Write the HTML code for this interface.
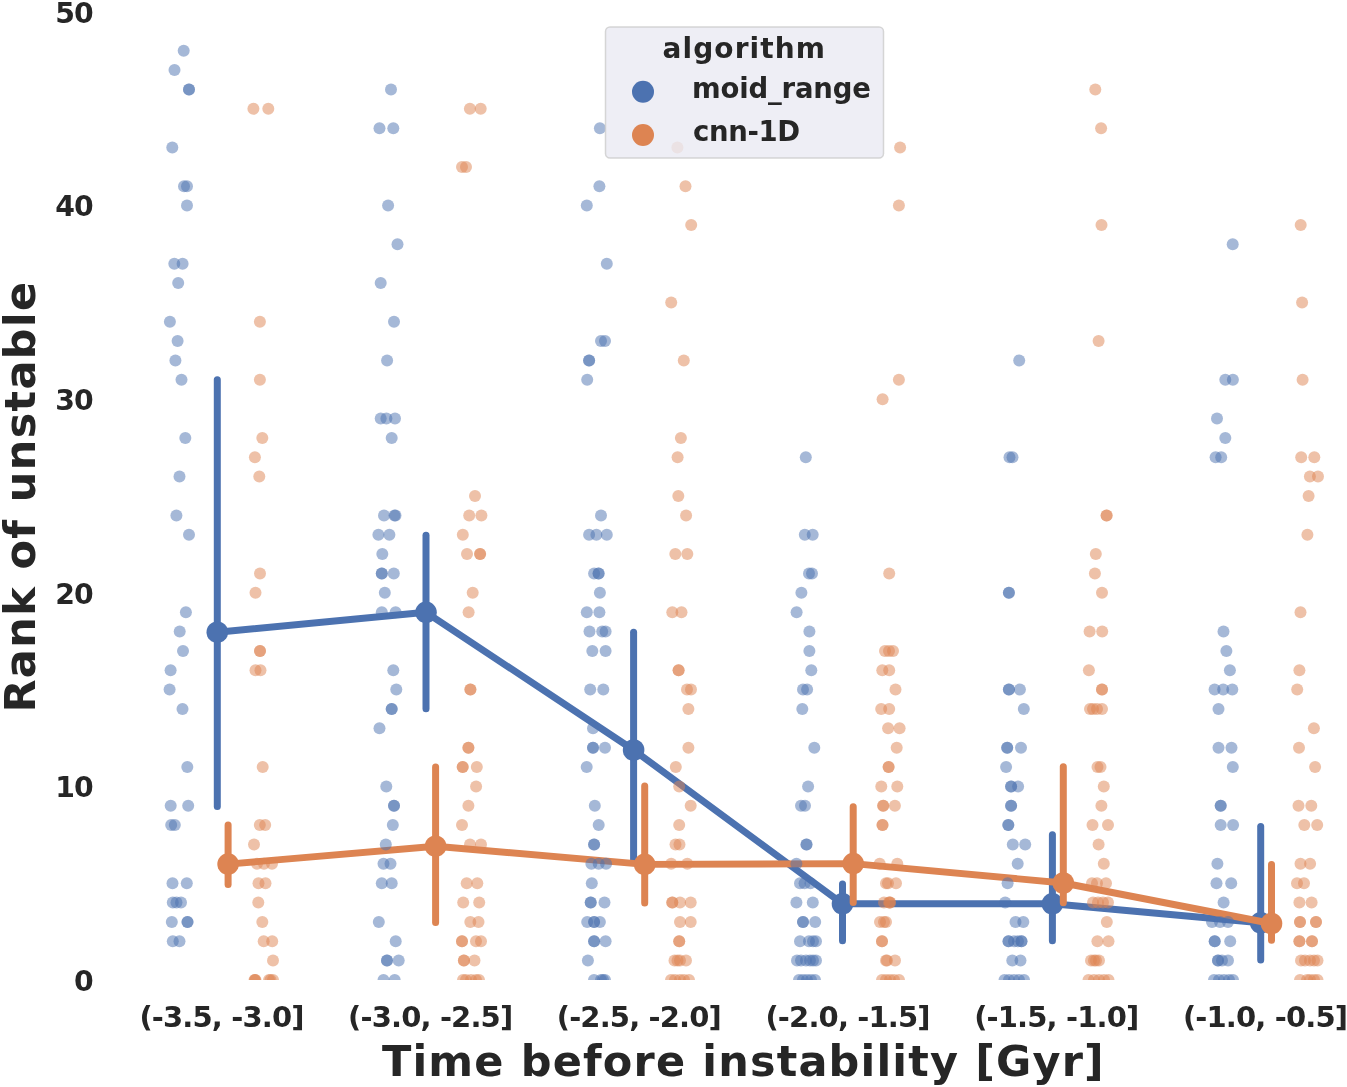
<!DOCTYPE html><html><head><meta charset="utf-8"><style>html,body{margin:0;padding:0;background:#fff;}svg{display:block;}text{font-family:"DejaVu Sans","Liberation Sans",sans-serif;font-weight:bold;fill:#262626}</style></head><body>
<svg width="1347" height="1087" viewBox="0 0 1347 1087">
<rect width="1347" height="1087" fill="#fff"/>
<defs><clipPath id="ax"><rect x="100" y="12" width="1247" height="968"/></clipPath></defs>
<g stroke="#4c72b0" fill="none" stroke-linecap="round" stroke-linejoin="round">
<path d="M217.3 632.2 L426.0 612.3 L633.6 750.0 L842.5 903.8 L1052.4 903.8 L1260.7 922.8" stroke-width="6.90"/>
<line x1="217.3" y1="379.7" x2="217.3" y2="806.5" stroke-width="7.00"/>
<line x1="426.0" y1="535.2" x2="426.0" y2="708.8" stroke-width="7.00"/>
<line x1="633.6" y1="632.3" x2="633.6" y2="859.4" stroke-width="7.00"/>
<line x1="842.5" y1="884.0" x2="842.5" y2="940.7" stroke-width="7.00"/>
<line x1="1052.4" y1="834.8" x2="1052.4" y2="940.7" stroke-width="7.00"/>
<line x1="1260.7" y1="826.5" x2="1260.7" y2="960.0" stroke-width="7.00"/>
</g>
<g fill="#4c72b0"><circle cx="217.3" cy="632.2" r="10.80"/><circle cx="426.0" cy="612.3" r="10.80"/><circle cx="633.6" cy="750.0" r="10.80"/><circle cx="842.5" cy="903.8" r="10.80"/><circle cx="1052.4" cy="903.8" r="10.80"/><circle cx="1260.7" cy="922.8" r="10.80"/></g>
<g stroke="#dd8452" fill="none" stroke-linecap="round" stroke-linejoin="round">
<path d="M228.1 864.1 L435.6 846.2 L644.7 864.4 L853.2 863.6 L1063.3 883.0 L1271.5 923.5" stroke-width="6.90"/>
<line x1="228.1" y1="825.0" x2="228.1" y2="884.5" stroke-width="7.00"/>
<line x1="435.6" y1="766.9" x2="435.6" y2="922.5" stroke-width="7.00"/>
<line x1="644.7" y1="786.1" x2="644.7" y2="903.1" stroke-width="7.00"/>
<line x1="853.2" y1="806.7" x2="853.2" y2="902.5" stroke-width="7.00"/>
<line x1="1063.3" y1="766.8" x2="1063.3" y2="902.8" stroke-width="7.00"/>
<line x1="1271.5" y1="864.5" x2="1271.5" y2="940.3" stroke-width="7.00"/>
</g>
<g fill="#dd8452"><circle cx="228.1" cy="864.1" r="10.80"/><circle cx="435.6" cy="846.2" r="10.80"/><circle cx="644.7" cy="864.4" r="10.80"/><circle cx="853.2" cy="863.6" r="10.80"/><circle cx="1063.3" cy="883.0" r="10.80"/><circle cx="1271.5" cy="923.5" r="10.80"/></g>
<g clip-path="url(#ax)">
<g fill="#4c72b0" fill-opacity="0.50"><circle cx="183.7" cy="50.7" r="6.00"/><circle cx="174.5" cy="70.1" r="6.00"/><circle cx="189.0" cy="89.4" r="6.00"/><circle cx="189.0" cy="89.4" r="6.00"/><circle cx="172.3" cy="147.5" r="6.00"/><circle cx="184.0" cy="186.2" r="6.00"/><circle cx="187.0" cy="186.2" r="6.00"/><circle cx="187.0" cy="205.6" r="6.00"/><circle cx="174.3" cy="263.7" r="6.00"/><circle cx="182.6" cy="263.7" r="6.00"/><circle cx="178.2" cy="283.0" r="6.00"/><circle cx="169.9" cy="321.8" r="6.00"/><circle cx="177.6" cy="341.1" r="6.00"/><circle cx="175.4" cy="360.5" r="6.00"/><circle cx="181.5" cy="379.8" r="6.00"/><circle cx="185.3" cy="437.9" r="6.00"/><circle cx="179.5" cy="476.6" r="6.00"/><circle cx="176.4" cy="515.4" r="6.00"/><circle cx="189.0" cy="534.7" r="6.00"/><circle cx="185.9" cy="612.2" r="6.00"/><circle cx="179.7" cy="631.5" r="6.00"/><circle cx="183.0" cy="650.9" r="6.00"/><circle cx="170.6" cy="670.2" r="6.00"/><circle cx="169.6" cy="689.6" r="6.00"/><circle cx="182.5" cy="709.0" r="6.00"/><circle cx="187.3" cy="767.0" r="6.00"/><circle cx="170.7" cy="805.8" r="6.00"/><circle cx="188.2" cy="805.8" r="6.00"/><circle cx="171.2" cy="825.1" r="6.00"/><circle cx="174.8" cy="825.1" r="6.00"/><circle cx="172.5" cy="883.2" r="6.00"/><circle cx="186.8" cy="883.2" r="6.00"/><circle cx="172.8" cy="902.6" r="6.00"/><circle cx="176.5" cy="902.6" r="6.00"/><circle cx="181.0" cy="902.6" r="6.00"/><circle cx="171.8" cy="921.9" r="6.00"/><circle cx="187.5" cy="921.9" r="6.00"/><circle cx="187.5" cy="921.9" r="6.00"/><circle cx="172.8" cy="941.3" r="6.00"/><circle cx="179.5" cy="941.3" r="6.00"/></g>
<g fill="#dd8452" fill-opacity="0.50"><circle cx="253.4" cy="108.8" r="6.00"/><circle cx="268.3" cy="108.8" r="6.00"/><circle cx="259.9" cy="321.8" r="6.00"/><circle cx="259.9" cy="379.8" r="6.00"/><circle cx="262.3" cy="437.9" r="6.00"/><circle cx="254.9" cy="457.3" r="6.00"/><circle cx="259.3" cy="476.6" r="6.00"/><circle cx="260.0" cy="573.4" r="6.00"/><circle cx="255.5" cy="592.8" r="6.00"/><circle cx="260.0" cy="650.9" r="6.00"/><circle cx="260.0" cy="650.9" r="6.00"/><circle cx="255.5" cy="670.2" r="6.00"/><circle cx="260.5" cy="670.2" r="6.00"/><circle cx="262.7" cy="767.0" r="6.00"/><circle cx="259.8" cy="825.1" r="6.00"/><circle cx="265.2" cy="825.1" r="6.00"/><circle cx="254.0" cy="844.5" r="6.00"/><circle cx="257.0" cy="863.8" r="6.00"/><circle cx="264.0" cy="863.8" r="6.00"/><circle cx="272.0" cy="863.8" r="6.00"/><circle cx="258.5" cy="883.2" r="6.00"/><circle cx="265.5" cy="883.2" r="6.00"/><circle cx="258.3" cy="902.6" r="6.00"/><circle cx="262.3" cy="921.9" r="6.00"/><circle cx="263.7" cy="941.3" r="6.00"/><circle cx="272.2" cy="941.3" r="6.00"/><circle cx="273.0" cy="960.6" r="6.00"/><circle cx="254.5" cy="980.0" r="6.00"/><circle cx="255.0" cy="980.0" r="6.00"/><circle cx="255.5" cy="980.0" r="6.00"/><circle cx="269.0" cy="980.0" r="6.00"/><circle cx="270.5" cy="980.0" r="6.00"/><circle cx="273.0" cy="980.0" r="6.00"/></g>
<g fill="#4c72b0" fill-opacity="0.50"><circle cx="391.0" cy="89.4" r="6.00"/><circle cx="379.5" cy="128.2" r="6.00"/><circle cx="393.3" cy="128.2" r="6.00"/><circle cx="388.1" cy="205.6" r="6.00"/><circle cx="397.5" cy="244.3" r="6.00"/><circle cx="380.7" cy="283.0" r="6.00"/><circle cx="394.0" cy="321.8" r="6.00"/><circle cx="387.1" cy="360.5" r="6.00"/><circle cx="380.7" cy="418.6" r="6.00"/><circle cx="386.4" cy="418.6" r="6.00"/><circle cx="395.0" cy="418.6" r="6.00"/><circle cx="391.7" cy="437.9" r="6.00"/><circle cx="384.0" cy="515.4" r="6.00"/><circle cx="394.5" cy="515.4" r="6.00"/><circle cx="395.5" cy="515.4" r="6.00"/><circle cx="378.4" cy="534.7" r="6.00"/><circle cx="389.4" cy="534.7" r="6.00"/><circle cx="382.3" cy="554.1" r="6.00"/><circle cx="381.8" cy="573.4" r="6.00"/><circle cx="381.8" cy="573.4" r="6.00"/><circle cx="393.8" cy="573.4" r="6.00"/><circle cx="384.8" cy="592.8" r="6.00"/><circle cx="381.8" cy="612.2" r="6.00"/><circle cx="395.6" cy="612.2" r="6.00"/><circle cx="393.3" cy="670.2" r="6.00"/><circle cx="396.3" cy="689.6" r="6.00"/><circle cx="391.7" cy="709.0" r="6.00"/><circle cx="391.7" cy="709.0" r="6.00"/><circle cx="379.5" cy="728.3" r="6.00"/><circle cx="386.3" cy="786.4" r="6.00"/><circle cx="394.0" cy="805.8" r="6.00"/><circle cx="394.0" cy="805.8" r="6.00"/><circle cx="392.8" cy="825.1" r="6.00"/><circle cx="385.8" cy="844.5" r="6.00"/><circle cx="383.5" cy="863.8" r="6.00"/><circle cx="390.5" cy="863.8" r="6.00"/><circle cx="381.8" cy="883.2" r="6.00"/><circle cx="391.7" cy="883.2" r="6.00"/><circle cx="378.8" cy="921.9" r="6.00"/><circle cx="395.7" cy="941.3" r="6.00"/><circle cx="387.0" cy="960.6" r="6.00"/><circle cx="387.0" cy="960.6" r="6.00"/><circle cx="398.7" cy="960.6" r="6.00"/><circle cx="383.5" cy="980.0" r="6.00"/><circle cx="394.7" cy="980.0" r="6.00"/></g>
<g fill="#dd8452" fill-opacity="0.50"><circle cx="469.9" cy="108.8" r="6.00"/><circle cx="480.7" cy="108.8" r="6.00"/><circle cx="462.0" cy="166.9" r="6.00"/><circle cx="466.0" cy="166.9" r="6.00"/><circle cx="475.0" cy="496.0" r="6.00"/><circle cx="469.2" cy="515.4" r="6.00"/><circle cx="481.4" cy="515.4" r="6.00"/><circle cx="462.8" cy="534.7" r="6.00"/><circle cx="467.0" cy="554.1" r="6.00"/><circle cx="480.1" cy="554.1" r="6.00"/><circle cx="480.1" cy="554.1" r="6.00"/><circle cx="472.7" cy="592.8" r="6.00"/><circle cx="468.6" cy="612.2" r="6.00"/><circle cx="470.4" cy="689.6" r="6.00"/><circle cx="470.4" cy="689.6" r="6.00"/><circle cx="468.4" cy="747.7" r="6.00"/><circle cx="468.4" cy="747.7" r="6.00"/><circle cx="462.7" cy="767.0" r="6.00"/><circle cx="462.7" cy="767.0" r="6.00"/><circle cx="476.8" cy="767.0" r="6.00"/><circle cx="476.1" cy="786.4" r="6.00"/><circle cx="468.4" cy="805.8" r="6.00"/><circle cx="462.0" cy="825.1" r="6.00"/><circle cx="470.0" cy="844.5" r="6.00"/><circle cx="481.0" cy="844.5" r="6.00"/><circle cx="466.7" cy="883.2" r="6.00"/><circle cx="477.3" cy="883.2" r="6.00"/><circle cx="463.2" cy="902.6" r="6.00"/><circle cx="479.2" cy="902.6" r="6.00"/><circle cx="470.3" cy="921.9" r="6.00"/><circle cx="478.5" cy="921.9" r="6.00"/><circle cx="462.0" cy="941.3" r="6.00"/><circle cx="462.0" cy="941.3" r="6.00"/><circle cx="476.0" cy="941.3" r="6.00"/><circle cx="481.0" cy="941.3" r="6.00"/><circle cx="463.9" cy="960.6" r="6.00"/><circle cx="463.9" cy="960.6" r="6.00"/><circle cx="474.5" cy="960.6" r="6.00"/><circle cx="463.0" cy="980.0" r="6.00"/><circle cx="466.0" cy="980.0" r="6.00"/><circle cx="471.0" cy="980.0" r="6.00"/><circle cx="476.0" cy="980.0" r="6.00"/><circle cx="479.0" cy="980.0" r="6.00"/></g>
<g fill="#4c72b0" fill-opacity="0.50"><circle cx="599.9" cy="128.2" r="6.00"/><circle cx="599.4" cy="186.2" r="6.00"/><circle cx="586.8" cy="205.6" r="6.00"/><circle cx="606.8" cy="263.7" r="6.00"/><circle cx="601.0" cy="341.1" r="6.00"/><circle cx="605.0" cy="341.1" r="6.00"/><circle cx="589.1" cy="360.5" r="6.00"/><circle cx="589.1" cy="360.5" r="6.00"/><circle cx="587.2" cy="379.8" r="6.00"/><circle cx="601.0" cy="515.4" r="6.00"/><circle cx="589.1" cy="534.7" r="6.00"/><circle cx="596.4" cy="534.7" r="6.00"/><circle cx="606.8" cy="534.7" r="6.00"/><circle cx="594.1" cy="573.4" r="6.00"/><circle cx="598.6" cy="573.4" r="6.00"/><circle cx="598.6" cy="573.4" r="6.00"/><circle cx="599.9" cy="592.8" r="6.00"/><circle cx="586.8" cy="612.2" r="6.00"/><circle cx="599.4" cy="612.2" r="6.00"/><circle cx="589.5" cy="631.5" r="6.00"/><circle cx="602.2" cy="631.5" r="6.00"/><circle cx="605.6" cy="631.5" r="6.00"/><circle cx="592.3" cy="650.9" r="6.00"/><circle cx="605.6" cy="650.9" r="6.00"/><circle cx="590.2" cy="689.6" r="6.00"/><circle cx="603.3" cy="689.6" r="6.00"/><circle cx="593.0" cy="728.3" r="6.00"/><circle cx="593.0" cy="747.7" r="6.00"/><circle cx="593.0" cy="747.7" r="6.00"/><circle cx="605.0" cy="747.7" r="6.00"/><circle cx="586.7" cy="767.0" r="6.00"/><circle cx="594.8" cy="805.8" r="6.00"/><circle cx="598.7" cy="825.1" r="6.00"/><circle cx="594.1" cy="844.5" r="6.00"/><circle cx="594.1" cy="844.5" r="6.00"/><circle cx="591.4" cy="863.8" r="6.00"/><circle cx="598.7" cy="863.8" r="6.00"/><circle cx="606.1" cy="863.8" r="6.00"/><circle cx="591.8" cy="883.2" r="6.00"/><circle cx="590.7" cy="902.6" r="6.00"/><circle cx="590.7" cy="902.6" r="6.00"/><circle cx="604.5" cy="902.6" r="6.00"/><circle cx="587.2" cy="921.9" r="6.00"/><circle cx="594.1" cy="921.9" r="6.00"/><circle cx="594.1" cy="921.9" r="6.00"/><circle cx="599.9" cy="921.9" r="6.00"/><circle cx="594.1" cy="941.3" r="6.00"/><circle cx="594.1" cy="941.3" r="6.00"/><circle cx="605.6" cy="941.3" r="6.00"/><circle cx="587.9" cy="960.6" r="6.00"/><circle cx="594.0" cy="980.0" r="6.00"/><circle cx="601.0" cy="980.0" r="6.00"/><circle cx="603.0" cy="980.0" r="6.00"/><circle cx="605.0" cy="980.0" r="6.00"/></g>
<g fill="#dd8452" fill-opacity="0.50"><circle cx="677.4" cy="147.5" r="6.00"/><circle cx="685.5" cy="186.2" r="6.00"/><circle cx="691.2" cy="225.0" r="6.00"/><circle cx="671.2" cy="302.4" r="6.00"/><circle cx="683.8" cy="360.5" r="6.00"/><circle cx="680.9" cy="437.9" r="6.00"/><circle cx="677.6" cy="457.3" r="6.00"/><circle cx="678.3" cy="496.0" r="6.00"/><circle cx="686.1" cy="515.4" r="6.00"/><circle cx="675.3" cy="554.1" r="6.00"/><circle cx="687.3" cy="554.1" r="6.00"/><circle cx="672.3" cy="612.2" r="6.00"/><circle cx="681.5" cy="612.2" r="6.00"/><circle cx="678.6" cy="670.2" r="6.00"/><circle cx="678.6" cy="670.2" r="6.00"/><circle cx="687.0" cy="689.6" r="6.00"/><circle cx="691.0" cy="689.6" r="6.00"/><circle cx="688.4" cy="709.0" r="6.00"/><circle cx="688.4" cy="747.7" r="6.00"/><circle cx="675.8" cy="767.0" r="6.00"/><circle cx="679.2" cy="786.4" r="6.00"/><circle cx="690.7" cy="805.8" r="6.00"/><circle cx="679.2" cy="825.1" r="6.00"/><circle cx="675.5" cy="844.5" r="6.00"/><circle cx="679.5" cy="844.5" r="6.00"/><circle cx="671.2" cy="863.8" r="6.00"/><circle cx="687.3" cy="863.8" r="6.00"/><circle cx="672.3" cy="902.6" r="6.00"/><circle cx="672.3" cy="902.6" r="6.00"/><circle cx="680.0" cy="902.6" r="6.00"/><circle cx="690.7" cy="902.6" r="6.00"/><circle cx="680.0" cy="921.9" r="6.00"/><circle cx="690.7" cy="921.9" r="6.00"/><circle cx="679.2" cy="941.3" r="6.00"/><circle cx="679.2" cy="941.3" r="6.00"/><circle cx="674.5" cy="960.6" r="6.00"/><circle cx="677.5" cy="960.6" r="6.00"/><circle cx="680.0" cy="960.6" r="6.00"/><circle cx="686.0" cy="960.6" r="6.00"/><circle cx="671.0" cy="980.0" r="6.00"/><circle cx="675.0" cy="980.0" r="6.00"/><circle cx="680.0" cy="980.0" r="6.00"/><circle cx="684.0" cy="980.0" r="6.00"/><circle cx="689.0" cy="980.0" r="6.00"/></g>
<g fill="#4c72b0" fill-opacity="0.50"><circle cx="805.8" cy="457.3" r="6.00"/><circle cx="804.8" cy="534.7" r="6.00"/><circle cx="812.7" cy="534.7" r="6.00"/><circle cx="809.0" cy="573.4" r="6.00"/><circle cx="812.0" cy="573.4" r="6.00"/><circle cx="801.4" cy="592.8" r="6.00"/><circle cx="796.6" cy="612.2" r="6.00"/><circle cx="809.4" cy="631.5" r="6.00"/><circle cx="809.4" cy="650.9" r="6.00"/><circle cx="811.3" cy="670.2" r="6.00"/><circle cx="803.0" cy="689.6" r="6.00"/><circle cx="807.1" cy="689.6" r="6.00"/><circle cx="802.3" cy="709.0" r="6.00"/><circle cx="814.3" cy="747.7" r="6.00"/><circle cx="808.1" cy="786.4" r="6.00"/><circle cx="801.0" cy="805.8" r="6.00"/><circle cx="805.0" cy="805.8" r="6.00"/><circle cx="806.5" cy="844.5" r="6.00"/><circle cx="806.5" cy="844.5" r="6.00"/><circle cx="796.4" cy="863.8" r="6.00"/><circle cx="800.0" cy="883.2" r="6.00"/><circle cx="804.6" cy="883.2" r="6.00"/><circle cx="810.5" cy="883.2" r="6.00"/><circle cx="796.4" cy="902.6" r="6.00"/><circle cx="812.8" cy="902.6" r="6.00"/><circle cx="803.0" cy="921.9" r="6.00"/><circle cx="803.0" cy="921.9" r="6.00"/><circle cx="815.2" cy="921.9" r="6.00"/><circle cx="800.0" cy="941.3" r="6.00"/><circle cx="809.0" cy="941.3" r="6.00"/><circle cx="813.0" cy="941.3" r="6.00"/><circle cx="816.0" cy="941.3" r="6.00"/><circle cx="797.0" cy="960.6" r="6.00"/><circle cx="801.0" cy="960.6" r="6.00"/><circle cx="806.0" cy="960.6" r="6.00"/><circle cx="810.0" cy="960.6" r="6.00"/><circle cx="813.0" cy="960.6" r="6.00"/><circle cx="816.0" cy="960.6" r="6.00"/><circle cx="799.0" cy="980.0" r="6.00"/><circle cx="803.0" cy="980.0" r="6.00"/><circle cx="807.0" cy="980.0" r="6.00"/><circle cx="811.0" cy="980.0" r="6.00"/><circle cx="815.0" cy="980.0" r="6.00"/></g>
<g fill="#dd8452" fill-opacity="0.50"><circle cx="900.1" cy="147.5" r="6.00"/><circle cx="898.9" cy="205.6" r="6.00"/><circle cx="898.9" cy="379.8" r="6.00"/><circle cx="882.6" cy="399.2" r="6.00"/><circle cx="889.2" cy="573.4" r="6.00"/><circle cx="885.0" cy="650.9" r="6.00"/><circle cx="889.0" cy="650.9" r="6.00"/><circle cx="893.0" cy="650.9" r="6.00"/><circle cx="882.3" cy="670.2" r="6.00"/><circle cx="889.2" cy="670.2" r="6.00"/><circle cx="895.5" cy="689.6" r="6.00"/><circle cx="881.2" cy="709.0" r="6.00"/><circle cx="889.2" cy="709.0" r="6.00"/><circle cx="888.1" cy="728.3" r="6.00"/><circle cx="899.6" cy="728.3" r="6.00"/><circle cx="896.7" cy="747.7" r="6.00"/><circle cx="888.6" cy="767.0" r="6.00"/><circle cx="888.6" cy="767.0" r="6.00"/><circle cx="881.3" cy="786.4" r="6.00"/><circle cx="897.3" cy="786.4" r="6.00"/><circle cx="883.2" cy="805.8" r="6.00"/><circle cx="883.2" cy="805.8" r="6.00"/><circle cx="894.9" cy="805.8" r="6.00"/><circle cx="882.5" cy="825.1" r="6.00"/><circle cx="882.5" cy="825.1" r="6.00"/><circle cx="879.7" cy="863.8" r="6.00"/><circle cx="897.3" cy="863.8" r="6.00"/><circle cx="886.0" cy="883.2" r="6.00"/><circle cx="888.0" cy="883.2" r="6.00"/><circle cx="896.0" cy="883.2" r="6.00"/><circle cx="884.0" cy="902.6" r="6.00"/><circle cx="889.0" cy="902.6" r="6.00"/><circle cx="890.0" cy="902.6" r="6.00"/><circle cx="890.0" cy="902.6" r="6.00"/><circle cx="880.0" cy="921.9" r="6.00"/><circle cx="884.0" cy="921.9" r="6.00"/><circle cx="886.0" cy="921.9" r="6.00"/><circle cx="882.0" cy="941.3" r="6.00"/><circle cx="882.0" cy="941.3" r="6.00"/><circle cx="886.0" cy="960.6" r="6.00"/><circle cx="887.0" cy="960.6" r="6.00"/><circle cx="895.0" cy="960.6" r="6.00"/><circle cx="882.0" cy="980.0" r="6.00"/><circle cx="886.0" cy="980.0" r="6.00"/><circle cx="890.0" cy="980.0" r="6.00"/><circle cx="894.0" cy="980.0" r="6.00"/><circle cx="899.0" cy="980.0" r="6.00"/></g>
<g fill="#4c72b0" fill-opacity="0.50"><circle cx="1019.2" cy="360.5" r="6.00"/><circle cx="1009.5" cy="457.3" r="6.00"/><circle cx="1012.5" cy="457.3" r="6.00"/><circle cx="1008.9" cy="592.8" r="6.00"/><circle cx="1008.9" cy="592.8" r="6.00"/><circle cx="1008.9" cy="689.6" r="6.00"/><circle cx="1008.9" cy="689.6" r="6.00"/><circle cx="1019.9" cy="689.6" r="6.00"/><circle cx="1023.8" cy="709.0" r="6.00"/><circle cx="1007.2" cy="747.7" r="6.00"/><circle cx="1007.2" cy="747.7" r="6.00"/><circle cx="1021.0" cy="747.7" r="6.00"/><circle cx="1006.1" cy="767.0" r="6.00"/><circle cx="1011.1" cy="786.4" r="6.00"/><circle cx="1011.1" cy="786.4" r="6.00"/><circle cx="1018.1" cy="786.4" r="6.00"/><circle cx="1011.1" cy="805.8" r="6.00"/><circle cx="1011.1" cy="805.8" r="6.00"/><circle cx="1008.3" cy="825.1" r="6.00"/><circle cx="1008.3" cy="825.1" r="6.00"/><circle cx="1012.8" cy="844.5" r="6.00"/><circle cx="1025.2" cy="844.5" r="6.00"/><circle cx="1017.7" cy="863.8" r="6.00"/><circle cx="1007.6" cy="883.2" r="6.00"/><circle cx="1005.2" cy="902.6" r="6.00"/><circle cx="1015.5" cy="921.9" r="6.00"/><circle cx="1023.3" cy="921.9" r="6.00"/><circle cx="1008.5" cy="941.3" r="6.00"/><circle cx="1008.5" cy="941.3" r="6.00"/><circle cx="1014.0" cy="941.3" r="6.00"/><circle cx="1018.0" cy="941.3" r="6.00"/><circle cx="1021.5" cy="941.3" r="6.00"/><circle cx="1021.5" cy="941.3" r="6.00"/><circle cx="1012.3" cy="960.6" r="6.00"/><circle cx="1020.5" cy="960.6" r="6.00"/><circle cx="1004.5" cy="980.0" r="6.00"/><circle cx="1009.0" cy="980.0" r="6.00"/><circle cx="1014.0" cy="980.0" r="6.00"/><circle cx="1019.0" cy="980.0" r="6.00"/><circle cx="1024.0" cy="980.0" r="6.00"/></g>
<g fill="#dd8452" fill-opacity="0.50"><circle cx="1095.3" cy="89.4" r="6.00"/><circle cx="1101.1" cy="128.2" r="6.00"/><circle cx="1101.5" cy="225.0" r="6.00"/><circle cx="1098.6" cy="341.1" r="6.00"/><circle cx="1106.6" cy="515.4" r="6.00"/><circle cx="1106.6" cy="515.4" r="6.00"/><circle cx="1095.8" cy="554.1" r="6.00"/><circle cx="1094.9" cy="573.4" r="6.00"/><circle cx="1102.0" cy="592.8" r="6.00"/><circle cx="1089.6" cy="631.5" r="6.00"/><circle cx="1102.2" cy="631.5" r="6.00"/><circle cx="1088.9" cy="670.2" r="6.00"/><circle cx="1102.0" cy="689.6" r="6.00"/><circle cx="1102.0" cy="689.6" r="6.00"/><circle cx="1090.0" cy="709.0" r="6.00"/><circle cx="1093.0" cy="709.0" r="6.00"/><circle cx="1097.0" cy="709.0" r="6.00"/><circle cx="1102.0" cy="709.0" r="6.00"/><circle cx="1097.5" cy="767.0" r="6.00"/><circle cx="1100.5" cy="767.0" r="6.00"/><circle cx="1103.8" cy="786.4" r="6.00"/><circle cx="1101.4" cy="805.8" r="6.00"/><circle cx="1092.5" cy="825.1" r="6.00"/><circle cx="1108.0" cy="825.1" r="6.00"/><circle cx="1098.6" cy="844.5" r="6.00"/><circle cx="1103.8" cy="863.8" r="6.00"/><circle cx="1092.0" cy="883.2" r="6.00"/><circle cx="1097.0" cy="883.2" r="6.00"/><circle cx="1106.0" cy="883.2" r="6.00"/><circle cx="1093.0" cy="902.6" r="6.00"/><circle cx="1098.0" cy="902.6" r="6.00"/><circle cx="1103.0" cy="902.6" r="6.00"/><circle cx="1108.0" cy="902.6" r="6.00"/><circle cx="1106.8" cy="921.9" r="6.00"/><circle cx="1097.4" cy="941.3" r="6.00"/><circle cx="1108.5" cy="941.3" r="6.00"/><circle cx="1091.0" cy="960.6" r="6.00"/><circle cx="1094.0" cy="960.6" r="6.00"/><circle cx="1096.0" cy="960.6" r="6.00"/><circle cx="1099.0" cy="960.6" r="6.00"/><circle cx="1088.5" cy="980.0" r="6.00"/><circle cx="1094.0" cy="980.0" r="6.00"/><circle cx="1099.0" cy="980.0" r="6.00"/><circle cx="1104.0" cy="980.0" r="6.00"/><circle cx="1108.5" cy="980.0" r="6.00"/></g>
<g fill="#4c72b0" fill-opacity="0.50"><circle cx="1232.7" cy="244.3" r="6.00"/><circle cx="1225.3" cy="379.8" r="6.00"/><circle cx="1232.9" cy="379.8" r="6.00"/><circle cx="1217.0" cy="418.6" r="6.00"/><circle cx="1225.3" cy="437.9" r="6.00"/><circle cx="1215.6" cy="457.3" r="6.00"/><circle cx="1221.2" cy="457.3" r="6.00"/><circle cx="1223.5" cy="631.5" r="6.00"/><circle cx="1226.4" cy="650.9" r="6.00"/><circle cx="1229.9" cy="670.2" r="6.00"/><circle cx="1214.6" cy="689.6" r="6.00"/><circle cx="1223.2" cy="689.6" r="6.00"/><circle cx="1232.3" cy="689.6" r="6.00"/><circle cx="1218.5" cy="709.0" r="6.00"/><circle cx="1218.5" cy="747.7" r="6.00"/><circle cx="1231.5" cy="747.7" r="6.00"/><circle cx="1232.8" cy="767.0" r="6.00"/><circle cx="1220.7" cy="805.8" r="6.00"/><circle cx="1220.7" cy="805.8" r="6.00"/><circle cx="1220.7" cy="825.1" r="6.00"/><circle cx="1233.1" cy="825.1" r="6.00"/><circle cx="1217.4" cy="863.8" r="6.00"/><circle cx="1216.5" cy="883.2" r="6.00"/><circle cx="1231.2" cy="883.2" r="6.00"/><circle cx="1223.6" cy="902.6" r="6.00"/><circle cx="1212.0" cy="921.9" r="6.00"/><circle cx="1220.0" cy="921.9" r="6.00"/><circle cx="1228.0" cy="921.9" r="6.00"/><circle cx="1214.7" cy="941.3" r="6.00"/><circle cx="1214.7" cy="941.3" r="6.00"/><circle cx="1230.2" cy="941.3" r="6.00"/><circle cx="1218.0" cy="960.6" r="6.00"/><circle cx="1218.0" cy="960.6" r="6.00"/><circle cx="1222.0" cy="960.6" r="6.00"/><circle cx="1228.0" cy="960.6" r="6.00"/><circle cx="1214.0" cy="980.0" r="6.00"/><circle cx="1219.0" cy="980.0" r="6.00"/><circle cx="1224.0" cy="980.0" r="6.00"/><circle cx="1229.0" cy="980.0" r="6.00"/><circle cx="1233.0" cy="980.0" r="6.00"/></g>
<g fill="#dd8452" fill-opacity="0.50"><circle cx="1300.7" cy="225.0" r="6.00"/><circle cx="1302.1" cy="302.4" r="6.00"/><circle cx="1302.6" cy="379.8" r="6.00"/><circle cx="1301.2" cy="457.3" r="6.00"/><circle cx="1314.3" cy="457.3" r="6.00"/><circle cx="1309.9" cy="476.6" r="6.00"/><circle cx="1318.0" cy="476.6" r="6.00"/><circle cx="1308.6" cy="496.0" r="6.00"/><circle cx="1307.4" cy="534.7" r="6.00"/><circle cx="1300.5" cy="612.2" r="6.00"/><circle cx="1299.4" cy="670.2" r="6.00"/><circle cx="1297.2" cy="689.6" r="6.00"/><circle cx="1313.9" cy="728.3" r="6.00"/><circle cx="1299.0" cy="747.7" r="6.00"/><circle cx="1315.1" cy="767.0" r="6.00"/><circle cx="1298.5" cy="805.8" r="6.00"/><circle cx="1311.3" cy="805.8" r="6.00"/><circle cx="1304.3" cy="825.1" r="6.00"/><circle cx="1317.2" cy="825.1" r="6.00"/><circle cx="1300.5" cy="863.8" r="6.00"/><circle cx="1310.1" cy="863.8" r="6.00"/><circle cx="1297.0" cy="883.2" r="6.00"/><circle cx="1304.0" cy="883.2" r="6.00"/><circle cx="1299.4" cy="902.6" r="6.00"/><circle cx="1311.6" cy="902.6" r="6.00"/><circle cx="1300.0" cy="921.9" r="6.00"/><circle cx="1300.0" cy="921.9" r="6.00"/><circle cx="1316.0" cy="921.9" r="6.00"/><circle cx="1316.0" cy="921.9" r="6.00"/><circle cx="1299.4" cy="941.3" r="6.00"/><circle cx="1299.4" cy="941.3" r="6.00"/><circle cx="1312.0" cy="941.3" r="6.00"/><circle cx="1312.0" cy="941.3" r="6.00"/><circle cx="1301.0" cy="960.6" r="6.00"/><circle cx="1305.0" cy="960.6" r="6.00"/><circle cx="1310.0" cy="960.6" r="6.00"/><circle cx="1314.0" cy="960.6" r="6.00"/><circle cx="1317.5" cy="960.6" r="6.00"/><circle cx="1300.0" cy="980.0" r="6.00"/><circle cx="1307.0" cy="980.0" r="6.00"/><circle cx="1310.0" cy="980.0" r="6.00"/><circle cx="1314.0" cy="980.0" r="6.00"/><circle cx="1317.5" cy="980.0" r="6.00"/></g>
</g>
<text x="92.6" y="990.8" font-size="28.30" letter-spacing="-1.00" text-anchor="end">0</text>
<text x="92.6" y="797.2" font-size="28.30" letter-spacing="-1.00" text-anchor="end">10</text>
<text x="92.6" y="603.6" font-size="28.30" letter-spacing="-1.00" text-anchor="end">20</text>
<text x="92.6" y="410.0" font-size="28.30" letter-spacing="-1.00" text-anchor="end">30</text>
<text x="92.6" y="216.4" font-size="28.30" letter-spacing="-1.00" text-anchor="end">40</text>
<text x="92.6" y="22.8" font-size="28.30" letter-spacing="-1.00" text-anchor="end">50</text>
<text x="221.5" y="1026.5" font-size="29.00" letter-spacing="-0.85" text-anchor="middle">(-3.5, -3.0]</text>
<text x="430.2" y="1026.5" font-size="29.00" letter-spacing="-0.85" text-anchor="middle">(-3.0, -2.5]</text>
<text x="638.9" y="1026.5" font-size="29.00" letter-spacing="-0.85" text-anchor="middle">(-2.5, -2.0]</text>
<text x="847.6" y="1026.5" font-size="29.00" letter-spacing="-0.85" text-anchor="middle">(-2.0, -1.5]</text>
<text x="1056.3" y="1026.5" font-size="29.00" letter-spacing="-0.85" text-anchor="middle">(-1.5, -1.0]</text>
<text x="1265.0" y="1026.5" font-size="29.00" letter-spacing="-0.85" text-anchor="middle">(-1.0, -0.5]</text>
<text x="382.0" y="1075.7" font-size="43.00" letter-spacing="1.15">Time before instability [Gyr]</text>
<text transform="translate(34.8 712.6) rotate(-90)" font-size="43.00" letter-spacing="1.35">Rank of unstable</text>
<rect x="605.5" y="27" width="278" height="131" rx="4.5" ry="4.5" fill="#eaeaf2" fill-opacity="0.8" stroke="#cccccc" stroke-opacity="0.8" stroke-width="1.5"/>
<text x="662.5" y="57.6" font-size="28.00" letter-spacing="1.10">algorithm</text>
<circle cx="643" cy="91.7" r="11" fill="#4c72b0"/>
<circle cx="643" cy="135" r="11" fill="#dd8452"/>
<text x="692.0" y="97.9" font-size="27.50" letter-spacing="-0.17">moid_range</text>
<text x="693.0" y="140.5" font-size="27.50" letter-spacing="-0.36">cnn-1D</text>
</svg></body></html>
